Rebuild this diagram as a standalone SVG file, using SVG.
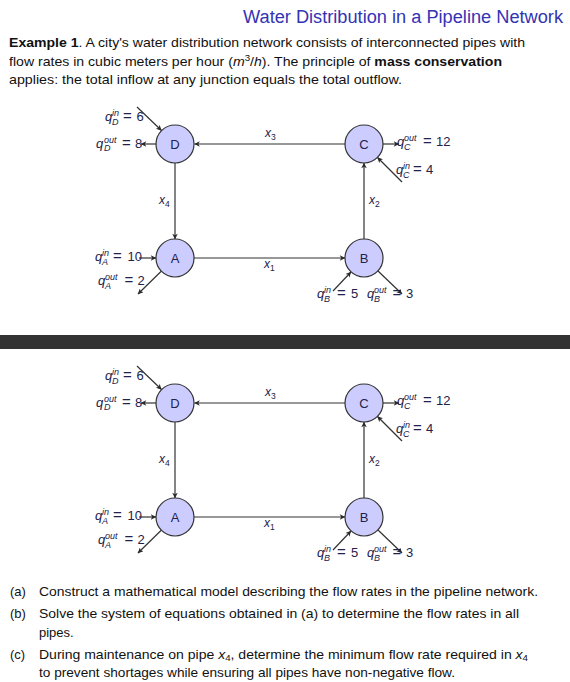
<svg xmlns="http://www.w3.org/2000/svg" width="570" height="682" viewBox="0 0 570 682">
<defs>
<marker id="ah" viewBox="0 0 10 10" refX="9.5" refY="5" markerWidth="6.5" markerHeight="5.5" orient="auto" markerUnits="userSpaceOnUse">
<path d="M0,0 L10,5 L0,10 L2.5,5 z" fill="#2a2a2a"/>
</marker>
<style>
.body{font-family:"Liberation Sans",Arial,sans-serif;font-size:13px;fill:#111}
.title{font-family:"Liberation Sans",Arial,sans-serif;font-size:18px;fill:#3333b3}
.node circle{fill:#ccccff;stroke:#333;stroke-width:1.2}
.node text{font-family:"Liberation Sans",Arial,sans-serif;font-size:13px;fill:#22224a;text-anchor:middle}
.edge{stroke:#333;stroke-width:1.2;fill:none;marker-end:url(#ah)}
.lbl{font-family:"Liberation Sans",Arial,sans-serif;font-size:13px;fill:#22224a}
.it{font-style:italic}
.sm{font-size:9px;font-style:italic}
.sub{font-size:8.5px}
.eq{font-size:15px}
</style>
</defs>
<rect width="570" height="682" fill="#fff"/>
<text class="title" x="243" y="23" textLength="320" lengthAdjust="spacingAndGlyphs">Water Distribution in a Pipeline Network</text>
<g id="intro" class="body">
<text x="9" y="47" textLength="516" lengthAdjust="spacingAndGlyphs"><tspan font-weight="bold">Example 1</tspan>. A city's water distribution network consists of interconnected pipes with</text>
<text x="9" y="66" textLength="493" lengthAdjust="spacingAndGlyphs">flow rates in cubic meters per hour (<tspan class="it">m</tspan><tspan font-size="9" dy="-5">3</tspan><tspan dy="5">/</tspan><tspan class="it">h</tspan>). The principle of <tspan font-weight="bold">mass conservation</tspan></text>
<text x="9" y="84" textLength="393" lengthAdjust="spacingAndGlyphs">applies: the total inflow at any junction equals the total outflow.</text>
</g>
<g id="diagram1">
<g id="connectors1">
<line class="edge" x1="345" y1="144" x2="194.5" y2="144"/>
<line class="edge" x1="175" y1="163" x2="175" y2="239"/>
<line class="edge" x1="194" y1="258" x2="345" y2="258"/>
<line class="edge" x1="364" y1="239" x2="364" y2="163"/>
<line class="edge" x1="137" y1="107" x2="161.5" y2="130.5"/>
<line class="edge" x1="156" y1="144" x2="141" y2="144"/>
<line class="edge" x1="383" y1="144" x2="399" y2="144"/>
<line class="edge" x1="402" y1="182" x2="377.5" y2="157.5"/>
<line class="edge" x1="139" y1="258" x2="156" y2="258"/>
<line class="edge" x1="161.5" y1="271" x2="138" y2="294"/>
<line class="edge" x1="333" y1="291" x2="351" y2="272"/>
<line class="edge" x1="378" y1="271" x2="402" y2="294"/>
<text class="lbl" x="265" y="137"><tspan class="it" font-size="12">x</tspan><tspan class="sub" dy="2.5">3</tspan></text>
<text class="lbl" x="159" y="204"><tspan class="it" font-size="12">x</tspan><tspan class="sub" dy="2.5">4</tspan></text>
<text class="lbl" x="264" y="268"><tspan class="it" font-size="12">x</tspan><tspan class="sub" dy="2.5">1</tspan></text>
<text class="lbl" x="369" y="204"><tspan class="it" font-size="12">x</tspan><tspan class="sub" dy="2.5">2</tspan></text>
</g>
<g id="nodeD1" class="node"><circle cx="175" cy="144" r="19"/><text x="175" y="148.5">D</text></g>
<g id="nodeC1" class="node"><circle cx="364" cy="144" r="19"/><text x="364" y="148.5">C</text></g>
<g id="nodeA1" class="node"><circle cx="175" cy="258" r="19"/><text x="175" y="262.5">A</text></g>
<g id="nodeB1" class="node"><circle cx="364" cy="258" r="19"/><text x="364" y="262.5">B</text></g>
<g id="labels1" class="lbl">
<text x="105" y="121"><tspan class="it">q</tspan><tspan class="sm" x="112" y="116">in</tspan><tspan class="sm" x="112" y="124.5">D</tspan><tspan class="eq" x="123" y="121">=</tspan><tspan x="136.5" y="121">6</tspan></text>
<text x="96" y="147.5"><tspan class="it">q</tspan><tspan class="sm" x="104" y="142.5">out</tspan><tspan class="sm" x="104" y="151">D</tspan><tspan class="eq" x="122" y="147.5">=</tspan><tspan x="135" y="147.5">8</tspan></text>
<text x="397" y="146"><tspan class="it">q</tspan><tspan class="sm" x="404" y="141">out</tspan><tspan class="sm" x="404" y="149.5">C</tspan><tspan class="eq" x="423" y="146">=</tspan><tspan x="436" y="146">12</tspan></text>
<text x="396" y="174"><tspan class="it">q</tspan><tspan class="sm" x="403" y="169">in</tspan><tspan class="sm" x="403" y="177.5">C</tspan><tspan class="eq" x="413" y="174">=</tspan><tspan x="426" y="174">4</tspan></text>
<text x="95" y="261"><tspan class="it">q</tspan><tspan class="sm" x="102" y="256">in</tspan><tspan class="sm" x="102" y="264.5">A</tspan><tspan class="eq" x="113" y="261">=</tspan><tspan x="127.5" y="261">10</tspan></text>
<text x="98" y="285"><tspan class="it">q</tspan><tspan class="sm" x="105" y="280">out</tspan><tspan class="sm" x="105" y="288.5">A</tspan><tspan class="eq" x="124.5" y="285">=</tspan><tspan x="137.5" y="285">2</tspan></text>
<text x="317" y="298"><tspan class="it">q</tspan><tspan class="sm" x="324" y="293">in</tspan><tspan class="sm" x="324" y="301.5">B</tspan><tspan class="eq" x="337" y="298">=</tspan><tspan x="351" y="298">5</tspan></text>
<text x="367" y="298"><tspan class="it">q</tspan><tspan class="sm" x="374" y="293">out</tspan><tspan class="sm" x="374" y="301.5">B</tspan><tspan class="eq" x="392.5" y="298">=</tspan><tspan x="406" y="298">3</tspan></text>
</g>
</g>
<rect id="band" x="0" y="335" width="570" height="14" fill="#333"/>
<g id="diagram2" transform="translate(0,259)">
<g id="connectors2">
<line class="edge" x1="345" y1="144" x2="194.5" y2="144"/>
<line class="edge" x1="175" y1="163" x2="175" y2="239"/>
<line class="edge" x1="194" y1="258" x2="345" y2="258"/>
<line class="edge" x1="364" y1="239" x2="364" y2="163"/>
<line class="edge" x1="137" y1="107" x2="161.5" y2="130.5"/>
<line class="edge" x1="156" y1="144" x2="141" y2="144"/>
<line class="edge" x1="383" y1="144" x2="399" y2="144"/>
<line class="edge" x1="402" y1="182" x2="377.5" y2="157.5"/>
<line class="edge" x1="139" y1="258" x2="156" y2="258"/>
<line class="edge" x1="161.5" y1="271" x2="138" y2="294"/>
<line class="edge" x1="333" y1="291" x2="351" y2="272"/>
<line class="edge" x1="378" y1="271" x2="402" y2="294"/>
<text class="lbl" x="265" y="137"><tspan class="it" font-size="12">x</tspan><tspan class="sub" dy="2.5">3</tspan></text>
<text class="lbl" x="159" y="204"><tspan class="it" font-size="12">x</tspan><tspan class="sub" dy="2.5">4</tspan></text>
<text class="lbl" x="264" y="268"><tspan class="it" font-size="12">x</tspan><tspan class="sub" dy="2.5">1</tspan></text>
<text class="lbl" x="369" y="204"><tspan class="it" font-size="12">x</tspan><tspan class="sub" dy="2.5">2</tspan></text>
</g>
<g id="nodeD2" class="node"><circle cx="175" cy="144" r="19"/><text x="175" y="148.5">D</text></g>
<g id="nodeC2" class="node"><circle cx="364" cy="144" r="19"/><text x="364" y="148.5">C</text></g>
<g id="nodeA2" class="node"><circle cx="175" cy="258" r="19"/><text x="175" y="262.5">A</text></g>
<g id="nodeB2" class="node"><circle cx="364" cy="258" r="19"/><text x="364" y="262.5">B</text></g>
<g id="labels2" class="lbl">
<text x="105" y="121"><tspan class="it">q</tspan><tspan class="sm" x="112" y="116">in</tspan><tspan class="sm" x="112" y="124.5">D</tspan><tspan class="eq" x="123" y="121">=</tspan><tspan x="136.5" y="121">6</tspan></text>
<text x="96" y="147.5"><tspan class="it">q</tspan><tspan class="sm" x="104" y="142.5">out</tspan><tspan class="sm" x="104" y="151">D</tspan><tspan class="eq" x="122" y="147.5">=</tspan><tspan x="135" y="147.5">8</tspan></text>
<text x="397" y="146"><tspan class="it">q</tspan><tspan class="sm" x="404" y="141">out</tspan><tspan class="sm" x="404" y="149.5">C</tspan><tspan class="eq" x="423" y="146">=</tspan><tspan x="436" y="146">12</tspan></text>
<text x="396" y="174"><tspan class="it">q</tspan><tspan class="sm" x="403" y="169">in</tspan><tspan class="sm" x="403" y="177.5">C</tspan><tspan class="eq" x="413" y="174">=</tspan><tspan x="426" y="174">4</tspan></text>
<text x="95" y="261"><tspan class="it">q</tspan><tspan class="sm" x="102" y="256">in</tspan><tspan class="sm" x="102" y="264.5">A</tspan><tspan class="eq" x="113" y="261">=</tspan><tspan x="127.5" y="261">10</tspan></text>
<text x="98" y="285"><tspan class="it">q</tspan><tspan class="sm" x="105" y="280">out</tspan><tspan class="sm" x="105" y="288.5">A</tspan><tspan class="eq" x="124.5" y="285">=</tspan><tspan x="137.5" y="285">2</tspan></text>
<text x="317" y="298"><tspan class="it">q</tspan><tspan class="sm" x="324" y="293">in</tspan><tspan class="sm" x="324" y="301.5">B</tspan><tspan class="eq" x="337" y="298">=</tspan><tspan x="351" y="298">5</tspan></text>
<text x="367" y="298"><tspan class="it">q</tspan><tspan class="sm" x="374" y="293">out</tspan><tspan class="sm" x="374" y="301.5">B</tspan><tspan class="eq" x="392.5" y="298">=</tspan><tspan x="406" y="298">3</tspan></text>
</g>
</g>
<g id="questions" class="body">
<text x="10" y="596">(a)</text>
<text x="39" y="596" textLength="499" lengthAdjust="spacingAndGlyphs">Construct a mathematical model describing the flow rates in the pipeline network.</text>
<text x="10" y="618">(b)</text>
<text x="39" y="618" textLength="480" lengthAdjust="spacingAndGlyphs">Solve the system of equations obtained in (a) to determine the flow rates in all</text>
<text x="39" y="637">pipes.</text>
<text x="10" y="659">(c)</text>
<text x="39" y="659" textLength="489" lengthAdjust="spacingAndGlyphs">During maintenance on pipe <tspan class="it">x</tspan><tspan font-size="9" dy="2">4</tspan><tspan dy="-2">, determine the minimum flow rate required in </tspan><tspan class="it">x</tspan><tspan font-size="9" dy="2">4</tspan></text>
<text x="39" y="677" textLength="416" lengthAdjust="spacingAndGlyphs">to prevent shortages while ensuring all pipes have non-negative flow.</text>
</g>
</svg>
